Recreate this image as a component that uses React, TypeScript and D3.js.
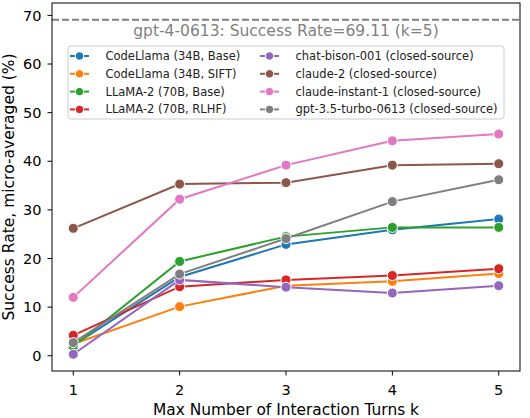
import * as d3 from "d3";

const turns = [1, 2, 3, 4, 5];
const yTicks = [0, 10, 20, 30, 40, 50, 60, 70];

const seriesNames = [
  "CodeLlama (34B, Base)",
  "CodeLlama (34B, SIFT)",
  "LLaMA-2 (70B, Base)",
  "LLaMA-2 (70B, RLHF)",
  "chat-bison-001 (closed-source)",
  "claude-2 (closed-source)",
  "claude-instant-1 (closed-source)",
  "gpt-3.5-turbo-0613 (closed-source)",
];

const codellamaBase = [2.2, 16.2, 22.9, 25.9, 28.1];
const codellamaSift = [2.4, 10.1, 14.4, 15.3, 16.9];
const llamaBase = [1.9, 19.4, 24.5, 26.4, 26.4];
const llamaRlhf = [4.2, 14.2, 15.6, 16.5, 17.9];
const chatBison = [0.3, 15.6, 14.1, 12.9, 14.4];
const claude2 = [26.2, 35.3, 35.6, 39.2, 39.5];
const claudeInstant = [12.0, 32.2, 39.2, 44.2, 45.6];
const gpt35 = [2.7, 16.8, 24.1, 31.7, 36.2];

const gpt4Rate = 69.11;

const seriesValues = [
  codellamaBase,
  codellamaSift,
  llamaBase,
  llamaRlhf,
  chatBison,
  claude2,
  claudeInstant,
  gpt35,
];

const colors = d3.schemeCategory10;

const width = 530;
const height = 418;
const margin = { top: 3, right: 10, bottom: 47, left: 52 };
const font = "DejaVu Sans, sans-serif";

export default function App() {
  const x = d3
    .scaleLinear()
    .domain([0.8, 5.2])
    .range([margin.left, width - margin.right]);
  const y = d3
    .scaleLinear()
    .domain([-3.14, 72.55])
    .range([height - margin.bottom, margin.top]);

  const line = d3
    .line<number>()
    .x((_, i) => x(turns[i]))
    .y((d) => y(d));

  const legendX = 68;
  const legendY = 46;
  const rowH = 17.8;

  return (
    <div style={{ position: "absolute", left: 0, top: 0 }}>
      <svg width={width} height={height} style={{ display: "block" }}>
        <rect width={width} height={height} fill="white" />

        {/* gpt-4 reference line */}
        <line
          x1={margin.left}
          x2={width - margin.right}
          y1={y(gpt4Rate)}
          y2={y(gpt4Rate)}
          stroke="#7f7f7f"
          strokeWidth={2}
          strokeDasharray="7,3"
        />
        <text
          x={x(3)}
          y={36}
          textAnchor="middle"
          fontFamily={font}
          fontSize={15.5}
          fill="#7f7f7f"
        >
          {`gpt-4-0613: Success Rate=${gpt4Rate} (k=5)`}
        </text>

        {seriesValues.map((vals, s) => (
          <g key={s}>
            <path
              d={line(vals) || ""}
              fill="none"
              stroke={colors[s]}
              strokeWidth={2}
            />
            {vals.map((v, i) => (
              <circle
                key={i}
                cx={x(turns[i])}
                cy={y(v)}
                r={5}
                fill={colors[s]}
                stroke="white"
                strokeWidth={1}
              />
            ))}
          </g>
        ))}

        {/* legend */}
        <rect
          x={legendX}
          y={legendY}
          width={436}
          height={73}
          rx={3}
          fill="white"
          fillOpacity={0.8}
          stroke="#cccccc"
          strokeWidth={1}
        />
        {seriesNames.map((name, s) => {
          const cx = s < 4 ? 70 : 260;
          const cy = legendY + 10 + (s % 4) * rowH;
          return (
            <g key={name}>
              <line
                x1={cx}
                x2={cx + 19}
                y1={cy}
                y2={cy}
                stroke={colors[s]}
                strokeWidth={2}
              />
              <circle
                cx={cx + 9.5}
                cy={cy}
                r={4.2}
                fill={colors[s]}
                stroke="white"
                strokeWidth={1}
              />
              <text
                x={cx + 35.5}
                y={cy + 4}
                fontFamily={font}
                fontSize={11.5}
                fill="#222"
              >
                {name}
              </text>
            </g>
          );
        })}

        {/* frame */}
        <rect
          x={margin.left}
          y={margin.top}
          width={width - margin.left - margin.right}
          height={height - margin.top - margin.bottom}
          fill="none"
          stroke="black"
          strokeWidth={1}
        />

        {/* x axis */}
        {turns.map((t) => (
          <g key={t} transform={`translate(${x(t)},${height - margin.bottom})`}>
            <line y2={4.5} stroke="black" />
            <text
              y={23.5}
              textAnchor="middle"
              fontFamily={font}
              fontSize={14.5}
              fill="black"
            >
              {t}
            </text>
          </g>
        ))}
        <text
          x={x(3)}
          y={415}
          textAnchor="middle"
          fontFamily={font}
          fontSize={15.4}
          fill="black"
        >
          Max Number of Interaction Turns k
        </text>

        {/* y axis */}
        {yTicks.map((t) => (
          <g key={t} transform={`translate(${margin.left},${y(t)})`}>
            <line x2={-4.5} stroke="black" />
            <text
              x={-10.5}
              dy="0.36em"
              textAnchor="end"
              fontFamily={font}
              fontSize={14.5}
              fill="black"
            >
              {t}
            </text>
          </g>
        ))}
        <text
          transform={`translate(13.5,${(margin.top + height - margin.bottom) / 2}) rotate(-90)`}
          textAnchor="middle"
          fontFamily={font}
          fontSize={15.5}
          fill="black"
        >
          Success Rate, micro-averaged (%)
        </text>
      </svg>
    </div>
  );
}
